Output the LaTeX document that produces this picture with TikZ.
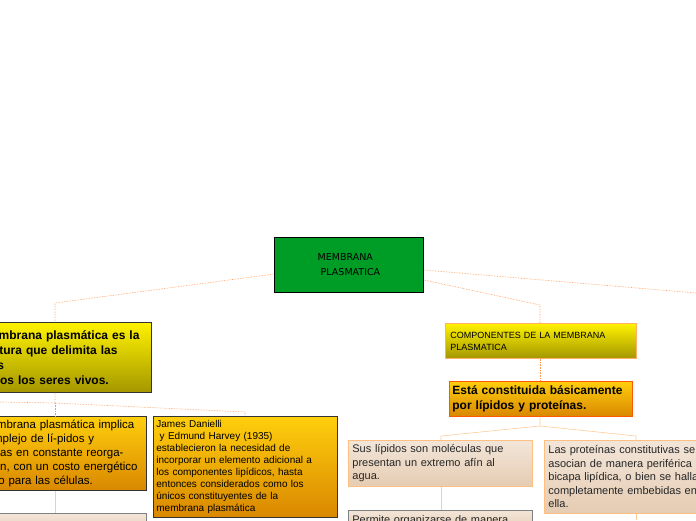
\documentclass[tikz,border=0pt]{standalone}
\usepackage{fontspec}
\setmainfont{Liberation Sans}
\newfontfamily\handfont{DejaVu Sans}
\begin{document}
\begin{tikzpicture}[x=1pt,y=-1pt,
  conn/.style={draw=orange!80!red!70, densely dotted, line width=0.6pt},
  connl/.style={draw=orange!40, line width=0.6pt},
  yel/.style={draw=black!80, line width=0.8pt, top color=yellow!90!orange, bottom color=yellow!60!black!90!orange, align=left, inner sep=3pt, anchor=north west, text=black},
  ora/.style={draw=black!80, line width=0.8pt, top color=orange!40!yellow!95, bottom color=orange!75!yellow!85!black, align=left, inner sep=3pt, anchor=north west, text=black},
  bei/.style={draw=orange!50, line width=0.8pt, top color=brown!20!white, bottom color=brown!40!white, align=left, inner sep=4pt, anchor=north west, text=black!85},
  wrap/.style={text width=#1}
]
\useasboundingbox (0,0) rectangle (696,520);
\clip (0,0) rectangle (696,520);
\node[draw=black, line width=0.9pt, fill=green!55!black!85!cyan, minimum width=149pt, minimum height=55pt, anchor=north west, inner sep=0pt] (root) at (274,237) {};
\node[font=\handfont\fontsize{9.5}{15}\selectfont, align=left] at (root.center) {MEMBRANA\\ \ PLASMATICA};
% left branch
\node[yel, wrap=185pt, minimum height=70pt, font=\fontsize{12}{15}\selectfont\bfseries] (l1) at (-40,322) {La membrana plasmática es la\\ estructura que delimita las\\ células\\ de todos los seres vivos.};
\node[ora, wrap=179pt, minimum height=74pt, font=\fontsize{11.5}{14}\selectfont] (l2) at (-39,416) {La membrana plasmática implica\\ un complejo de lí-pidos y\\ proteínas en constante reorga-\\ nización, con un costo energético\\ elevado para las células.};
\node[ora, wrap=178pt, minimum height=101pt, font=\fontsize{10}{12}\selectfont] (l3) at (153,416) {James Danielli\\ \ y Edmund Harvey (1935)\\ establecieron la necesidad de\\ incorporar un elemento adicional a\\ los componentes lipídicos, hasta\\ entonces considerados como los\\ únicos constituyentes de la\\ membrana plasmática};
\node[bei, draw=black!50, wrap=177pt, minimum height=20pt, anchor=north west] (l4) at (-39,513) {};
% right branch
\node[yel, draw=orange!60, wrap=181pt, minimum height=35pt, font=\fontsize{9}{12}\selectfont, inner sep=5pt] (r1) at (445,323) {COMPONENTES DE LA MEMBRANA\\ PLASMATICA};
\node[ora, draw=orange!70!red, wrap=177pt, minimum height=35pt, font=\fontsize{12}{15}\selectfont\bfseries] (r2) at (449,381) {Está constituida básicamente\\ por lípidos y proteínas.};
\node[bei, wrap=176pt, minimum height=46pt, font=\fontsize{11}{13.5}\selectfont] (r3) at (348,440) {Sus lípidos son moléculas que\\ presentan un extremo afín al\\ agua.};
\node[bei, wrap=190pt, minimum height=73pt, font=\fontsize{11}{13.5}\selectfont] (r4) at (544,440) {Las proteínas constitutivas se\\ asocian de manera periférica a la\\ bicapa lipídica, o bien se hallan\\ completamente embebidas en\\ ella.};
\node[bei, draw=black!50, wrap=176pt, minimum height=20pt, font=\fontsize{11}{13.5}\selectfont] (r5) at (348,510) {Permite organizarse de manera};
% connectors
\coordinate (c1) at (55,303);
\draw[conn] (root.west |- 0,274) -- (c1) -- (l1.north -| c1);
\coordinate (c2) at (55,403);
\coordinate (c3) at (245,412);
\coordinate (c0) at (0,402);
\draw[conn] (l1.south -| c2) -- (c2) -- (c3) -- (l3.north -| c3);
\draw[conn] (c2) -- (c0);
\draw[conn] (c2) -- (l2.north -| c2);
\draw[connl] (l2.south -| c2) -- (l4.north -| c2);
\coordinate (c4) at (540,305);
\draw[conn] (root.east |- 0,280) -- (c4) -- (r1.north -| c4);
\draw[conn] (root.east |- 0,270) -- (696,293);
\draw[conn] (r1.south -| c4) -- (r2.north -| c4);
\coordinate (c5) at (540,426);
\coordinate (c6) at (441,436);
\coordinate (c7) at (636,436);
\draw[connl] (r2.south -| c5) -- (c5) -- (c6) -- (r3.north -| c6);
\draw[connl] (c5) -- (c7) -- (r4.north -| c7);
\draw[connl] (r3.south -| c6) -- (r5.north -| c6);
\draw[connl] (r4.south -| c7) -- (636,520);
\end{tikzpicture}
\end{document}
